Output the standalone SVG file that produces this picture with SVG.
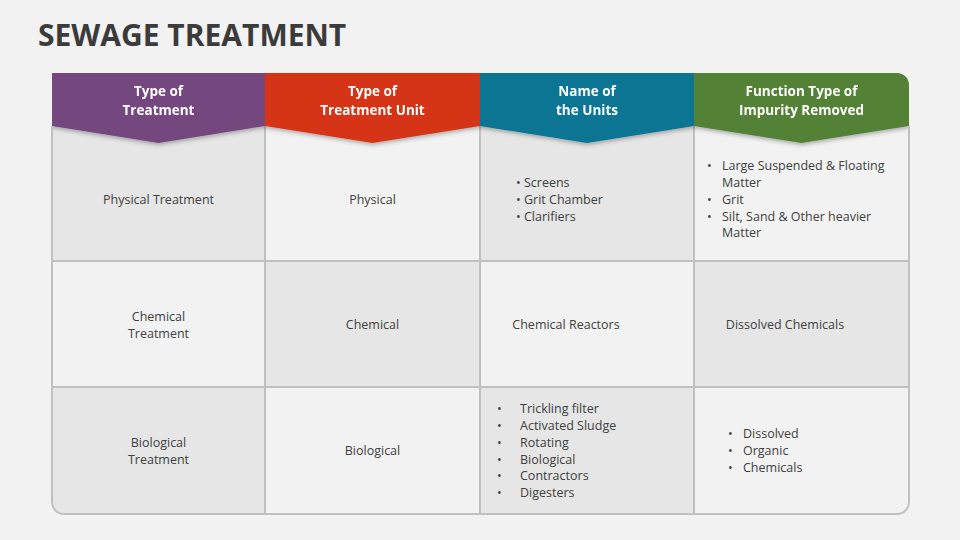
<svg xmlns="http://www.w3.org/2000/svg" width="960" height="540" viewBox="0 0 960 540">
<defs>
<style>
.t{font-family:"Open Sans","Liberation Sans",sans-serif;font-size:12.5px;fill:#404040}
.h{font-family:"Open Sans","Liberation Sans",sans-serif;font-size:13.5px;font-weight:bold;fill:#fff;text-anchor:middle}
.c{text-anchor:middle}
.a{fill:#e6e6e6}.b{fill:#f2f2f2}
.g{stroke:#c0c0c0;stroke-width:2;fill:none}
</style>
<clipPath id="cl"><path d="M52,73 H897 A12,12 0 0 1 909,85 V502 A12,12 0 0 1 897,514 H64 A12,12 0 0 1 52,502 Z"/></clipPath>
<filter id="sh" x="-5%" y="-5%" width="110%" height="130%"><feDropShadow dx="0" dy="2" stdDeviation="2" flood-opacity="0.3"/></filter>
</defs>
<rect width="960" height="540" fill="#f2f2f2"/>
<text x="38" y="46" style="font-family:'Open Sans','Liberation Sans',sans-serif;font-size:30px;font-weight:bold;fill:#3b3b3b">SEWAGE TREATMENT</text>
<g clip-path="url(#cl)">
<g id="cells">
<rect class="a" x="52" y="126" width="213" height="135"/><rect class="b" x="265" y="126" width="215" height="135"/><rect class="a" x="480" y="126" width="214" height="135"/><rect class="b" x="694" y="126" width="215" height="135"/>
<rect class="b" x="52" y="261" width="213" height="126"/><rect class="a" x="265" y="261" width="215" height="126"/><rect class="b" x="480" y="261" width="214" height="126"/><rect class="a" x="694" y="261" width="215" height="126"/>
<rect class="a" x="52" y="387" width="213" height="127"/><rect class="b" x="265" y="387" width="215" height="127"/><rect class="a" x="480" y="387" width="214" height="127"/><rect class="b" x="694" y="387" width="215" height="127"/>
</g>
<g id="connectors">
<path class="g" d="M265,126V514M480,126V514M694,126V514M52,261H909M52,387H909"/>
</g>
<g filter="url(#sh)">
<g id="h1"><path d="M52,73H265V126L158.5,143L52,126Z" fill="#74467f"/><text class="h" x="158.5" y="96">Type of</text><text class="h" x="158.5" y="115">Treatment</text></g>
<g id="h2"><path d="M265,73H480V126L372.5,143L265,126Z" fill="#d53512"/><text class="h" x="372.5" y="96">Type of</text><text class="h" x="372.5" y="115">Treatment Unit</text></g>
<g id="h3"><path d="M480,73H694V126L587,143L480,126Z" fill="#077594"/><text class="h" x="587" y="96">Name of</text><text class="h" x="587" y="115">the Units</text></g>
<g id="h4"><path d="M694,73H909V126L801.5,143L694,126Z" fill="#538135"/><text class="h" x="801.5" y="96">Function Type of</text><text class="h" x="801.5" y="115">Impurity Removed</text></g>
</g>
</g>
<path class="g" d="M52,126V502A12,12 0 0 0 64,514H897A12,12 0 0 0 909,502V126"/>
<g id="r1">
<text class="t c" x="158.5" y="204">Physical Treatment</text>
<text class="t c" x="372.5" y="204">Physical</text>
<text class="t" x="516" y="187">•   Screens</text><text class="t" x="516" y="204">•   Grit Chamber</text><text class="t" x="516" y="221">•   Clarifiers</text>
<text class="t" x="707" y="170">•</text><text class="t" x="722" y="170">Large Suspended &amp; Floating</text><text class="t" x="722" y="187">Matter</text>
<text class="t" x="707" y="204">•</text><text class="t" x="722" y="204">Grit</text>
<text class="t" x="707" y="221">•</text><text class="t" x="722" y="221">Silt, Sand &amp; Other heavier</text><text class="t" x="722" y="237">Matter</text>
</g>
<g id="r2">
<text class="t c" x="158.5" y="321">Chemical</text><text class="t c" x="158.5" y="338">Treatment</text>
<text class="t c" x="372.5" y="329">Chemical</text>
<text class="t c" x="566" y="329">Chemical Reactors</text>
<text class="t c" x="785" y="329">Dissolved Chemicals</text>
</g>
<g id="r3">
<text class="t c" x="158.5" y="447">Biological</text><text class="t c" x="158.5" y="464">Treatment</text>
<text class="t c" x="372.5" y="455">Biological</text>
<text class="t" x="497" y="413">•</text><text class="t" x="520" y="413">Trickling filter</text>
<text class="t" x="497" y="430">•</text><text class="t" x="520" y="430">Activated Sludge</text>
<text class="t" x="497" y="447">•</text><text class="t" x="520" y="447">Rotating</text>
<text class="t" x="497" y="464">•</text><text class="t" x="520" y="464">Biological</text>
<text class="t" x="497" y="480">•</text><text class="t" x="520" y="480">Contractors</text>
<text class="t" x="497" y="497">•</text><text class="t" x="520" y="497">Digesters</text>
<text class="t" x="728" y="438">•</text><text class="t" x="743" y="438">Dissolved</text>
<text class="t" x="728" y="455">•</text><text class="t" x="743" y="455">Organic</text>
<text class="t" x="728" y="472">•</text><text class="t" x="743" y="472">Chemicals</text>
</g>
</svg>
